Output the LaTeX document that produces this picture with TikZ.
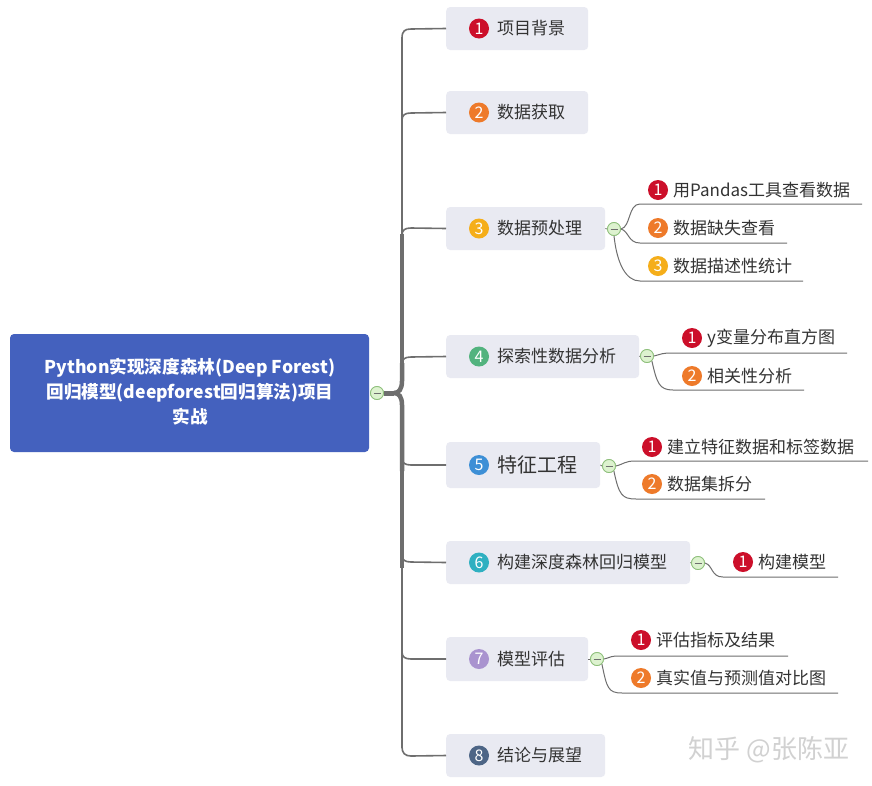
\documentclass[tikz,border=0pt]{standalone}
\usepackage{fontspec}
\setmainfont{Noto Sans CJK SC}
\definecolor{boxfill}{HTML}{E9EAF2}
\definecolor{mainfill}{HTML}{4461BE}
\definecolor{linegray}{HTML}{6E6E6E}
\definecolor{txt}{HTML}{333333}
\definecolor{cA}{HTML}{CC0F2A}
\definecolor{cB}{HTML}{EE7A2A}
\definecolor{cC}{HTML}{F5AE1A}
\definecolor{cD}{HTML}{52B37E}
\definecolor{cE}{HTML}{3D8FD6}
\definecolor{cF}{HTML}{2FB0C1}
\definecolor{cG}{HTML}{A993CF}
\definecolor{cH}{HTML}{4D6586}
\definecolor{colfill}{HTML}{DDF2CF}
\definecolor{coldraw}{HTML}{8DBF7A}
\tikzset{
  topicbox/.style={fill=boxfill, rounded corners=4pt, anchor=west, inner sep=0pt},
  badge/.style={circle, inner sep=0pt, minimum size=20pt, text=white, font=\fontsize{16}{16}\selectfont},
  toptext/.style={anchor=west, inner sep=0pt, text=txt, font=\fontsize{17}{19}\selectfont},
  subtext/.style={anchor=west, inner sep=0pt, text=txt, font=\fontsize{17}{19}\selectfont},
  collapse/.style={circle, draw=coldraw, fill=colfill, line width=0.8pt, minimum size=13pt, inner sep=0pt,
    path picture={\draw[linegray, line width=0.7pt] ([xshift=-3.5pt]path picture bounding box.center) -- ([xshift=3.5pt]path picture bounding box.center);}},
  branch/.style={draw=linegray, line width=1.6pt},
  subline/.style={draw=linegray, line width=1pt},
}
\newcommand\mmtopic[8]{% name, left, top, right, bottom, num, color, text
  \node[topicbox, minimum width=#4-#2, minimum height=#5-#3] (#1) at (#2,{(#3+#5)/2}) {};
  \node[badge, fill=#7] (#1b) at (479,{(#3+#5)/2}) {#6};
  \node[toptext] (#1l) at (497,{(#3+#5)/2}) {#8};
}
\newcommand\mmsubnode[6]{% name, bx, by, num, color, text
  \node[badge, fill=#5] (#1b) at (#2,#3) {#4};
  \node[subtext] (#1) at (#2+15,#3) {#6};
}
\begin{document}
\begin{tikzpicture}[x=1pt,y=-1pt]
\useasboundingbox[fill=white] (0,0) rectangle (872,785);

% watermark
\node[text=black!18, font=\fontsize{26}{28}\selectfont, inner sep=0pt] (wm) at (769,750) {知乎 @张陈亚};

% main topic
\node[fill=mainfill, rounded corners=4pt, minimum width=359pt, minimum height=118pt, inner sep=0pt] (main) at (189.5,393) {};
\node[text=white, align=center, font=\bfseries\fontsize{17.6}{25}\selectfont, inner sep=0pt] (maintext) at (190,392)
  {Python实现深度森林(Deep Forest)\\回归模型(deepforest回归算法)项目\\实战};

% topics
\mmtopic{t1}{446}{7}{588}{50}{1}{cA}{项目背景}
\mmtopic{t2}{446}{91}{588}{134}{2}{cB}{数据获取}
\mmtopic{t3}{446}{207}{605}{250}{3}{cC}{数据预处理}
\mmtopic{t4}{446}{335}{639}{378}{4}{cD}{探索性数据分析}
\node[topicbox, minimum width=154pt, minimum height=46pt] (t5) at (446,465) {};
\node[badge, fill=cE] (t5b) at (479,465) {5};
\node[toptext, font=\fontsize{20}{22}\selectfont] (t5l) at (497,465) {特征工程};
\mmtopic{t6}{446}{541}{690}{584}{6}{cF}{构建深度森林回归模型}
\mmtopic{t7}{446}{637}{588}{681}{7}{cG}{模型评估}
\mmtopic{t8}{446}{734}{605}{777}{8}{cH}{结论与展望}

% trunk
\coordinate (hub) at (394,393);
\node[collapse] (mc) at (377,393) {};
\draw[linegray, line width=5pt] (mc.east) -- (hub);
\draw[linegray, line width=4.5pt] (hub) .. controls (399,393) and (402,389) .. (402,381) -- (402,363);
\draw[linegray, line width=4.5pt] (hub) .. controls (399,393) and (402,397) .. (402,405) -- (402,471);
\draw[linegray, line width=3.6pt] (402,364) -- (402,234);
\draw[linegray, line width=3.6pt] (402,470) -- (402,568);
\draw[linegray, line width=2.8pt] (402,235) -- (402,119);
\draw[linegray, line width=2.8pt] (402,567) -- (402,665);
\draw[linegray, line width=2.2pt] (402,120) -- (402,37);
\draw[linegray, line width=2.2pt] (402,664) -- (402,748);

% branches to topics
\draw[branch] (402,38) .. controls (402,31) and (405,29) .. (411,29) -- (t1.west);
\draw[branch] (402,120) .. controls (402,115) and (405,113) .. (411,113) -- (t2.west);
\draw[branch] (402,235) .. controls (402,230) and (405,228) .. (411,228) -- (t3.west);
\draw[branch] (402,364) .. controls (402,359) and (405,357) .. (411,357) -- (t4.west);
\draw[branch] (402,458) .. controls (402,463) and (405,465) .. (411,465) -- (t5.west);
\draw[branch] (402,555) .. controls (402,560) and (405,562) .. (411,562) -- (t6.west);
\draw[branch] (402,652) .. controls (402,657) and (405,659) .. (411,659) -- (t7.west);
\draw[branch] (402,747) .. controls (402,753) and (405,756) .. (411,756) -- (t8.west);

% topic 3 subtopics
\node[collapse] (c3) at (614,229) {};
\mmsubnode{s31}{658}{190}{1}{cA}{用Pandas工具查看数据}
\mmsubnode{s32}{658}{228}{2}{cB}{数据缺失查看}
\mmsubnode{s33}{658}{266}{3}{cC}{数据描述性统计}
\coordinate (u31s) at (640,204); \coordinate (u31e) at (862,204);
\coordinate (u32s) at (640,243); \coordinate (u32e) at (787,243);
\coordinate (u33s) at (640,281); \coordinate (u33e) at (803,281);
\draw[subline] (c3.east) .. controls +(10,-2) and +(-12,0) .. (u31s) -- (u31e);
\draw[subline] (c3.east) .. controls +(8,2) and +(-12,0) .. (u32s) -- (u32e);
\draw[subline] (c3.south) .. controls +(3,28) and +(-14,0) .. (u33s) -- (u33e);

% topic 4 subtopics
\node[collapse] (c4) at (647,356) {};
\mmsubnode{s41}{692}{338}{1}{cA}{y变量分布直方图}
\mmsubnode{s42}{692}{376}{2}{cB}{相关性分析}
\coordinate (u41s) at (672,353); \coordinate (u41e) at (847,353);
\coordinate (u42s) at (673,390); \coordinate (u42e) at (804,390);
\draw[subline] (c4.east) .. controls +(8,-2) and +(-10,0) .. (u41s) -- (u41e);
\draw[subline] (c4.south east) .. controls +(5,22) and +(-14,0) .. (u42s) -- (u42e);

% topic 5 subtopics
\node[collapse] (c5) at (609,466) {};
\mmsubnode{s51}{652}{447}{1}{cA}{建立特征数据和标签数据}
\mmsubnode{s52}{652}{484}{2}{cB}{数据集拆分}
\coordinate (u51s) at (635,461); \coordinate (u51e) at (868,461);
\coordinate (u52s) at (636,499); \coordinate (u52e) at (765,499);
\draw[subline] (c5.east) .. controls +(8,-2) and +(-10,0) .. (u51s) -- (u51e);
\draw[subline] (c5.south east) .. controls +(5,24) and +(-14,0) .. (u52s) -- (u52e);

% topic 6 subtopic
\node[collapse] (c6) at (698,563) {};
\mmsubnode{s61}{743}{562}{1}{cA}{构建模型}
\coordinate (u61s) at (723,577); \coordinate (u61e) at (838,577);
\draw[subline] (c6.east) .. controls +(8,2) and +(-12,0) .. (u61s) -- (u61e);

% topic 7 subtopics
\node[collapse] (c7) at (597,659) {};
\mmsubnode{s71}{641}{640}{1}{cA}{评估指标及结果}
\mmsubnode{s72}{641}{678}{2}{cB}{真实值与预测值对比图}
\coordinate (u71s) at (620,656); \coordinate (u71e) at (788,656);
\coordinate (u72s) at (622,693); \coordinate (u72e) at (838,693);
\draw[subline] (c7.east) .. controls +(8,-2) and +(-10,0) .. (u71s) -- (u71e);
\draw[subline] (c7.south east) .. controls +(5,24) and +(-14,0) .. (u72s) -- (u72e);

% collapse connectors from topics
\draw[linegray, line width=0.8pt] (t3.east) -- (c3.west);
\draw[linegray, line width=0.8pt] (t4.east) -- (c4.west);
\draw[linegray, line width=0.8pt] (t5.east) -- (c5.west);
\draw[linegray, line width=0.8pt] (t6.east) -- (c6.west);
\draw[linegray, line width=0.8pt] (t7.east) -- (c7.west);
\node[collapse] at (c3) {};
\node[collapse] at (c4) {};
\node[collapse] at (c5) {};
\node[collapse] at (c6) {};
\node[collapse] at (c7) {};
\node[collapse] at (mc) {};
\end{tikzpicture}
\end{document}
